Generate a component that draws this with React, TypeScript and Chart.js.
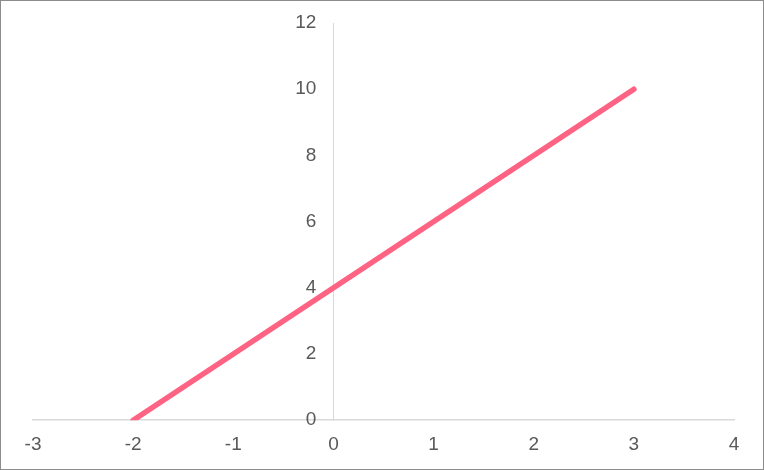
import { useEffect, useRef } from "react"
import { Chart, registerables, type ChartConfiguration } from "chart.js"

Chart.register(...registerables)

// line end points
const xValues = [-2, 3]
const yValues = [0, 10]

// axis ranges / ticks
const xRange = [-3, 4]
const yRange = [0, 12]
const xStep = 1
const yStep = 2

const lineColor = "#FF6384"
const axisColor = "#D9D9D9"
const textColor = "#595959"
const font = { family: "'Liberation Sans', Arial, sans-serif", size: 19 }

export default function App() {
  const canvasRef = useRef<HTMLCanvasElement>(null)
  const chartRef = useRef<Chart | null>(null)

  useEffect(() => {
    document.body.style.margin = "0"
    if (!canvasRef.current) return
    if (chartRef.current) chartRef.current.destroy()

    const ctx = canvasRef.current.getContext("2d")
    if (!ctx) return

    const config: ChartConfiguration<"scatter"> = {
      type: "scatter",
      data: {
        datasets: [
          {
            data: xValues.map((x, i) => ({ x, y: yValues[i] })),
            showLine: true,
            borderColor: lineColor,
            backgroundColor: lineColor,
            borderWidth: 5.5,
            borderCapStyle: "round",
            pointRadius: 0,
            pointHoverRadius: 0,
          },
        ],
      },
      options: {
        responsive: false,
        animation: false,
        layout: { padding: { left: 32, right: 29, top: 22, bottom: 0 } },
        plugins: {
          legend: { display: false },
          tooltip: { enabled: false },
        },
        scales: {
          x: {
            type: "linear",
            position: "bottom",
            min: xRange[0],
            max: xRange[1],
            grid: { display: false, drawTicks: false },
            border: { display: true, color: axisColor, width: 1.5 },
            ticks: { stepSize: xStep, color: textColor, font, padding: 13 },
          },
          // vertical axis line crossing at x = 0
          y: {
            type: "linear",
            position: { x: 0 },
            min: yRange[0],
            max: yRange[1],
            grid: { display: false, drawTicks: false },
            border: { display: true, color: axisColor, width: 1 },
            ticks: { stepSize: yStep, display: false },
          },
          // tick labels for the vertical axis, set a little left of the line
          yLabels: {
            type: "linear",
            position: { x: -0.17 },
            min: yRange[0],
            max: yRange[1],
            grid: { display: false, drawTicks: false },
            border: { display: false },
            ticks: { stepSize: yStep, color: textColor, font },
          },
        },
      },
    }

    chartRef.current = new Chart(ctx, config)

    return () => {
      if (chartRef.current) chartRef.current.destroy()
    }
  }, [])

  return (
    <div
      style={{
        width: 764,
        height: 470,
        boxSizing: "border-box",
        border: "1px solid #8C8C8C",
        background: "#fff",
      }}
    >
      <canvas ref={canvasRef} width={762} height={468} style={{ display: "block" }} />
    </div>
  )
}
